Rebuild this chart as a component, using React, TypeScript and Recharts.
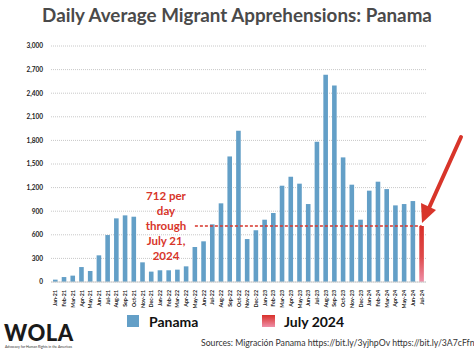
import { BarChart, Bar, XAxis, YAxis, CartesianGrid, ReferenceLine, Cell } from 'recharts';

const months = [
  'Jan-21', 'Feb-21', 'Mar-21', 'Apr-21', 'May-21', 'Jun-21', 'Jul-21', 'Aug-21', 'Sep-21', 'Oct-21', 'Nov-21', 'Dec-21',
  'Jan-22', 'Feb-22', 'Mar-22', 'Apr-22', 'May-22', 'Jun-22', 'Jul-22', 'Aug-22', 'Sep-22', 'Oct-22', 'Nov-22', 'Dec-22',
  'Jan-23', 'Feb-23', 'Mar-23', 'Apr-23', 'May-23', 'Jun-23', 'Jul-23', 'Aug-23', 'Sep-23', 'Oct-23', 'Nov-23', 'Dec-23',
  'Jan-24', 'Feb-24', 'Mar-24', 'Apr-24', 'May-24', 'Jun-24', 'Jul-24',
];

const dailyAverage = [
  30, 63, 81, 190, 140, 339, 597, 809, 847, 830, 250, 132,
  149, 149, 157, 199, 445, 517, 733, 1000, 1596, 1922, 546, 657,
  792, 877, 1224, 1338, 1250, 991, 1783, 2634, 2498, 1584, 1237, 792,
  1161, 1275, 1181, 974, 991, 1029, 712,
];

const yTicks = [0, 300, 600, 900, 1200, 1500, 1800, 2100, 2400, 2700, 3000];

const currentMonth = 'Jul-24';
const currentValue = 712;
const lineStart = 'May-22';
const noteLines = ['712 per', 'day', 'through', 'July 21,', '2024'];

const BLUE = '#639fc7';
const RED = '#d8352a';

const data = months.map((m, i) => ({ month: m, value: dailyAverage[i] }));

const fmt = (v: number) => v.toLocaleString('en-US');

function MonthTick(props: any) {
  const { x, y, payload } = props;
  return (
    <text
      x={x}
      y={y}
      transform={`rotate(-90, ${x}, ${y})`}
      textAnchor="end"
      dominantBaseline="central"
      fontSize={5.3}
      fontWeight={700}
      fill="#222"
    >
      {payload.value}
    </text>
  );
}

export default function App() {
  const font = 'Lato, "Open Sans", sans-serif';
  return (
    <div style={{ position: 'absolute', left: 0, top: 0, width: 474, height: 355, background: '#fff', fontFamily: font, overflow: 'hidden' }}>
      <div style={{ position: 'absolute', top: 3, left: 0, width: 474, textAlign: 'center', fontSize: 18.8, fontWeight: 700, color: '#4a4a4a' }}>
        Daily Average Migrant Apprehensions: Panama
      </div>

      <div style={{ position: 'absolute', top: 0, left: 0 }}>
        <BarChart width={474} height={310} data={data} margin={{ top: 46, right: 48, left: 6, bottom: 2 }} barSize={4.6}>
          <defs>
            <linearGradient id="julyGrad" x1="0" y1="0" x2="0" y2="1">
              <stop offset="0%" stopColor="#d9302a" />
              <stop offset="55%" stopColor="#de4a4a" />
              <stop offset="100%" stopColor="#ee8fa8" />
            </linearGradient>
          </defs>
          <CartesianGrid vertical={false} stroke="#c8c8c8" strokeDasharray="1 1" />
          <XAxis
            dataKey="month"
            interval={0}
            height={26}
            tick={<MonthTick />}
            tickLine={false}
            axisLine={{ stroke: '#d0d0d0' }}
          />
          <YAxis
            domain={[0, 3000]}
            ticks={yTicks}
            width={45}
            tickFormatter={fmt}
            tick={{ fontSize: 6.5, fontWeight: 700, fill: '#222', fontFamily: font }}
            tickLine={false}
            axisLine={false}
          />
          <Bar dataKey="value" isAnimationActive={false}>
            {data.map(d => (
              <Cell key={d.month} fill={d.month === currentMonth ? 'url(#julyGrad)' : BLUE} />
            ))}
          </Bar>
          <ReferenceLine
            segment={[{ x: lineStart, y: currentValue }, { x: currentMonth, y: currentValue }]}
            stroke={RED}
            strokeWidth={1.3}
            strokeDasharray="3 2"
          />
        </BarChart>
      </div>

      <div style={{ position: 'absolute', left: 126, top: 188, width: 80, textAlign: 'center', color: RED, fontSize: 11.5, fontWeight: 700, lineHeight: '15px' }}>
        {noteLines.map(l => <div key={l}>{l}</div>)}
      </div>

      <svg style={{ position: 'absolute', left: 0, top: 0 }} width={474} height={355}>
        <line x1={461} y1={137} x2={429} y2={208} stroke={RED} strokeWidth={4} strokeLinecap="round" />
        <polygon points="422,223 421,203 436,210" fill={RED} />
      </svg>

      <div style={{ position: 'absolute', top: 313, left: 0, width: 474, fontSize: 14, fontWeight: 700, color: '#111' }}>
        <div style={{ position: 'absolute', left: 127, top: 2, width: 12, height: 12, background: BLUE }} />
        <div style={{ position: 'absolute', left: 149, top: 0 }}>Panama</div>
        <div style={{ position: 'absolute', left: 262, top: 2, width: 13, height: 12, background: 'linear-gradient(#d9302a, #ee8fa8)' }} />
        <div style={{ position: 'absolute', left: 284, top: 0 }}>July 2024</div>
      </div>

      <div style={{ position: 'absolute', left: 4, top: 321, fontSize: 22, fontWeight: 900, color: '#1a1a1a', letterSpacing: 0.5, lineHeight: '24px' }}>
        WOLA
      </div>
      <div style={{ position: 'absolute', left: 5, top: 345, fontSize: 3.5, color: '#333', whiteSpace: 'nowrap' }}>
        Advocacy for Human Rights in the Americas
      </div>

      <div style={{ position: 'absolute', left: 201, top: 337, fontSize: 8.7, color: '#333', whiteSpace: 'nowrap' }}>
        Sources: Migración Panama https://bit.ly/3yjhpOv https://bit.ly/3A7cFfn
      </div>
    </div>
  );
}
